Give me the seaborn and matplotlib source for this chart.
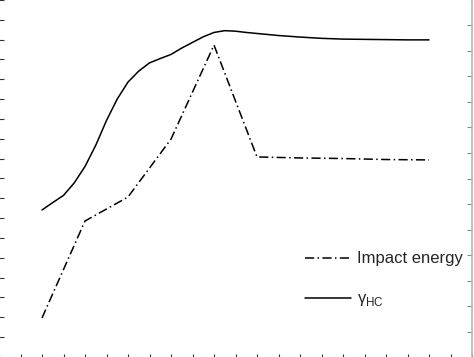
import numpy as np
import matplotlib
matplotlib.use('Agg')
import matplotlib.pyplot as plt
import seaborn as sns
import pandas as pd

# Data (x in tick units, 22 ticks across)
x_energy = [2, 4, 6, 8, 10, 12, 14, 16, 18, 20]
impact_energy = [0.96, 5.85, 7.06, 9.98, 14.72, 9.08, 9.03, 9.00, 8.95, 8.93]

x_gamma = [2, 2.5, 3, 3.5, 4, 4.5, 5, 5.5, 6, 6.5, 7, 7.5, 8, 8.5, 9, 9.5,
           10, 10.5, 11, 11.5, 12, 13, 14, 15, 16, 17, 18, 19, 20]
gamma_hc = [4.77, 5.06, 5.34, 5.83, 6.47, 7.30, 8.27, 9.11, 9.77, 10.20,
            10.52, 10.69, 10.85, 11.10, 11.32, 11.54, 11.71, 11.78, 11.76,
            11.71, 11.67, 11.59, 11.53, 11.48, 11.45, 11.44, 11.43, 11.42, 11.42]

sns.set_style('white')
plt.rcParams['font.family'] = ['Liberation Sans', 'DejaVu Sans']

W, H = 474, 357
fig = plt.figure(figsize=(W / 100, H / 100), dpi=100)
ax = fig.add_axes([-1 / W, -1.5 / H, 473 / W, 361.5 / H])
ax2 = ax.twinx()

df_e = pd.DataFrame({'x': x_energy, 'y': impact_energy})
df_g = pd.DataFrame({'x': x_gamma, 'y': gamma_hc})

sns.lineplot(data=df_e, x='x', y='y', ax=ax, color='black', linewidth=1.1,
             linestyle=(0, (6.0, 2.2, 1.0, 2.2)), label='Impact energy', legend=False)
sns.lineplot(data=df_g, x='x', y='y', ax=ax2, color='black', linewidth=1.1,
             label=r'γ$_{\mathregular{HC}}$', legend=False)

ax.set_xlim(0, 22)
ax.set_xticks(np.arange(0, 23, 1))
ax.set_ylim(-1.084, 17.146)
ax.set_yticks(np.arange(0, 18, 1))
ax2.set_ylim(-1.036, 13.096)
ax2.set_yticks(np.arange(0, 14, 1))

for a in (ax, ax2):
    a.set_xlabel('')
    a.set_ylabel('')
    a.set_xticklabels([])
    a.set_yticklabels([])
    for s in a.spines.values():
        s.set_visible(False)

ax2.spines['right'].set_visible(True)
ax2.spines['right'].set_color('#b8b8b8')
ax2.spines['right'].set_linewidth(1.2)

ax.tick_params(axis='both', direction='in', length=3.4, width=0.8,
               color='#333333', left=True, bottom=True)
ax2.tick_params(axis='y', direction='in', length=3.4, width=0.8,
                color='#888888', right=True)

h1, l1 = ax.get_legend_handles_labels()
h2, l2 = ax2.get_legend_handles_labels()
fig.legend(h1 + h2, l1 + l2, loc='upper left',
           bbox_to_anchor=(305 / W, 1 - 251.5 / H), bbox_transform=fig.transFigure,
           frameon=False, fontsize=12, handlelength=2.75, handletextpad=0.36,
           labelspacing=1.5, borderpad=0, borderaxespad=0)

fig.savefig('out.png', dpi=100)
